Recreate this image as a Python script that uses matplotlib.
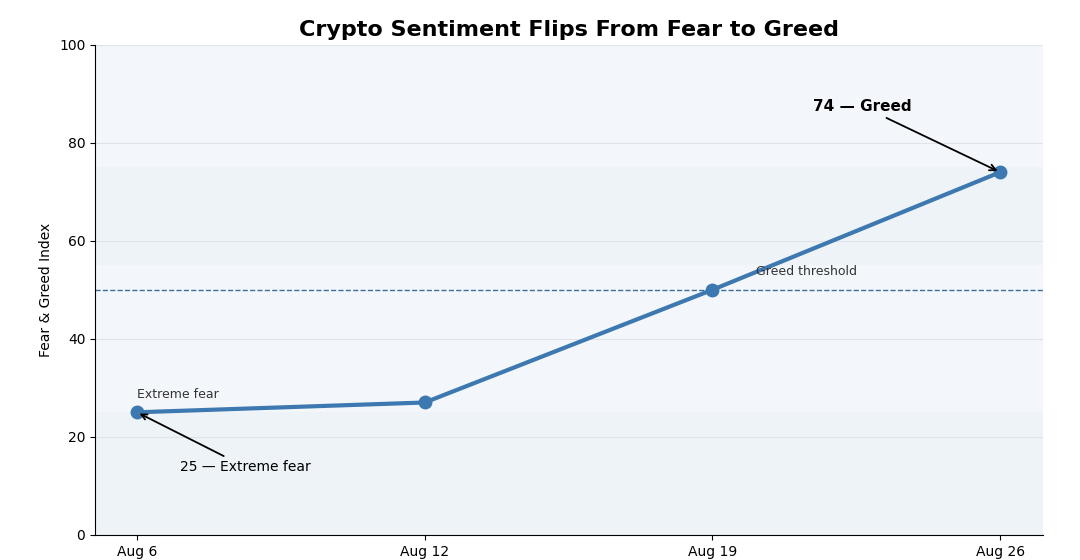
import matplotlib.pyplot as plt

dates = ["Aug 6", "Aug 12", "Aug 19", "Aug 26"]
index_values = [25, 27, 50, 74]
bands = [(0, 25, "#eef3f8"), (25, 45, "#f3f7fb"), (45, 55, "#f3f7fb"),
         (55, 75, "#eef3f8"), (75, 100, "#f3f7fb")]

fig, ax = plt.subplots(figsize=(10.8, 5.6), dpi=100)
fig.subplots_adjust(left=0.088, right=0.966, top=0.92, bottom=0.045)

for lo, hi, c in bands:
    ax.axhspan(lo, hi, color=c, zorder=0, lw=0)

x = list(range(len(dates)))
ax.plot(x, index_values, color="#3d78b0", lw=3, marker="o", ms=9, zorder=3)
ax.axhline(50, color="#3d6f9e", ls="--", lw=1, zorder=2)
ax.text(2.15, 53, "Greed threshold", fontsize=9, color="#333333")
ax.text(0, 28, "Extreme fear", fontsize=9, color="#333333")

ax.annotate("25 — Extreme fear", xy=(0, 25), xytext=(0.15, 13),
            fontsize=10, arrowprops=dict(arrowstyle="->", color="black", lw=1.3))
ax.annotate("74 — Greed", xy=(3, 74), xytext=(2.35, 86.5),
            fontsize=11, fontweight="bold",
            arrowprops=dict(arrowstyle="->", color="black", lw=1.3))

ax.set_xticks(x)
ax.set_xticklabels(dates)
ax.set_xlim(-0.146, 3.15)
ax.set_ylim(0, 100)
ax.set_ylabel("Fear & Greed Index")
ax.set_title("Crypto Sentiment Flips From Fear to Greed", fontsize=16, fontweight="bold")
ax.grid(axis="y", color="#e0e4ea", lw=0.8)
ax.set_axisbelow(True)
for s in ["top", "right"]:
    ax.spines[s].set_visible(False)

plt.savefig("out.png")
